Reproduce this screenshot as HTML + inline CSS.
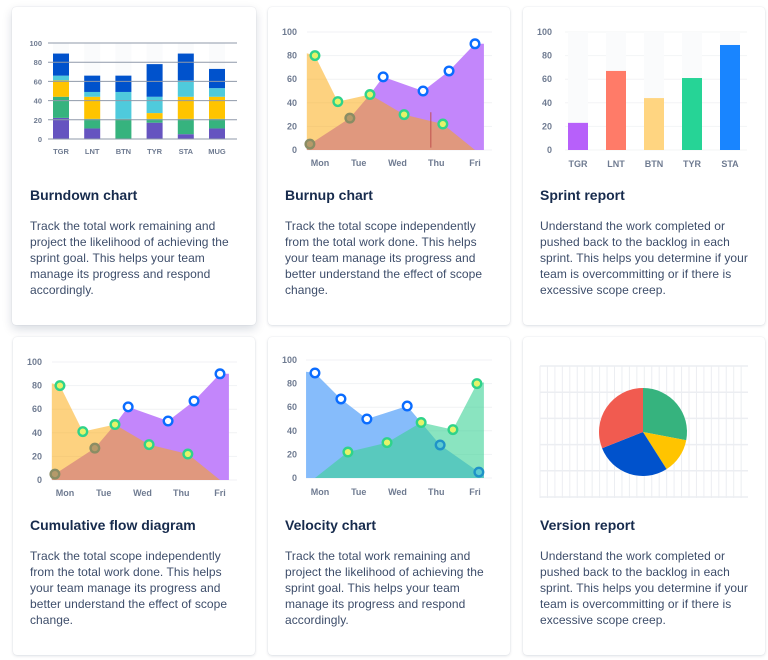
<!DOCTYPE html>
<html><head><meta charset="utf-8">
<style>
*{margin:0;padding:0;box-sizing:border-box}
body{width:768px;height:660px;background:#fff;position:relative;overflow:hidden;font-family:"Liberation Sans",sans-serif}
.card{position:absolute;background:#fff;border-radius:4px;box-shadow:0 1px 3px rgba(9,30,66,0.13),0 0 1px rgba(9,30,66,0.12)}
.card.hi{box-shadow:0 4px 10px rgba(9,30,66,0.16),0 0 1px rgba(9,30,66,0.2)}
.title{position:absolute;font-size:14px;font-weight:bold;color:#172b4d;white-space:nowrap}
.body{position:absolute;font-size:12px;line-height:16px;color:#3d4d6a;white-space:nowrap;letter-spacing:0.05px}
svg{position:absolute;left:0;top:0}
svg text{font-family:"Liberation Sans",sans-serif;font-weight:bold;fill:#6f7b91}
</style></head><body>
<div class="card hi" style="left:12px;top:7px;width:244px;height:318px"></div>
<div class="card" style="left:268px;top:7px;width:242px;height:318px"></div>
<div class="card" style="left:523px;top:7px;width:242px;height:318px"></div>
<div class="card" style="left:13px;top:337px;width:242px;height:318px"></div>
<div class="card" style="left:268px;top:337px;width:242px;height:318px"></div>
<div class="card" style="left:523px;top:337px;width:242px;height:318px"></div>

<div class="title" style="left:30px;top:187px">Burndown chart</div>
<div class="body" style="left:30px;top:218px">Track the total work remaining and<br>project the likelihood of achieving the<br>sprint goal. This helps your team<br>manage its progress and respond<br>accordingly.</div>
<div class="title" style="left:285px;top:187px">Burnup chart</div>
<div class="body" style="left:285px;top:218px">Track the total scope independently<br>from the total work done. This helps<br>your team manage its progress and<br>better understand the effect of scope<br>change.</div>
<div class="title" style="left:540px;top:187px">Sprint report</div>
<div class="body" style="left:540px;top:218px">Understand the work completed or<br>pushed back to the backlog in each<br>sprint. This helps you determine if your<br>team is overcommitting or if there is<br>excessive scope creep.</div>
<div class="title" style="left:30px;top:517px">Cumulative flow diagram</div>
<div class="body" style="left:30px;top:548px">Track the total scope independently<br>from the total work done. This helps<br>your team manage its progress and<br>better understand the effect of scope<br>change.</div>
<div class="title" style="left:285px;top:517px">Velocity chart</div>
<div class="body" style="left:285px;top:548px">Track the total work remaining and<br>project the likelihood of achieving the<br>sprint goal. This helps your team<br>manage its progress and respond<br>accordingly.</div>
<div class="title" style="left:540px;top:517px">Version report</div>
<div class="body" style="left:540px;top:548px">Understand the work completed or<br>pushed back to the backlog in each<br>sprint. This helps you determine if your<br>team is overcommitting or if there is<br>excessive scope creep.</div>

<svg id="s" width="768" height="660"></svg>
<script>
const yTicks=[0,20,40,60,80,100];
const dayLabels=['Mon','Tue','Wed','Thu','Fri'];
// burndown
const bdCats=['TGR','LNT','BTN','TYR','STA','MUG'];
const bdPurple=[22,11,0,17,5,11];
const bdGreen=[22,10,21,4,16,10];
const bdYellow=[17,23,0,6,23,23];
const bdCyan=[5,5,28,17,17,9];
const bdBlue=[23,17,17,34,28,20];
// sprint
const spCats=['TGR','LNT','BTN','TYR','STA'];
const spVals=[23,67,44,61,89];
// burnup / cumulative (x in days, Mon=0)
const buOrangeX=[-0.34,-0.13,0.46,1.29,2.17,3.17,4];
const buOrangeY=[82,80,41,47,30,22,0];
const buPurpleX=[-0.34,-0.26,0.77,1.29,1.63,2.66,3.33,4,4.23];
const buPurpleY=[3,5,27,47,62,50,67,90,90];
const buGreenMarkX=[-0.13,0.46,1.29,2.17,3.17];
const buGreenMarkY=[80,41,47,30,22];
const buGrayMarkX=[-0.26,0.77];
const buGrayMarkY=[5,27];
const buBlueMarkX=[1.63,2.66,3.33,4];
const buBlueMarkY=[62,50,67,90];
// velocity
const veBlueX=[-0.36,-0.13,0.54,1.21,2.25,2.61,3.1,4.1,4.23];
const veBlueY=[90,89,67,50,61,47,28,5,4];
const veGreenX=[-0.13,0.72,1.73,2.61,3.43,4.05,4.23];
const veGreenY=[0,22,30,47,41,80,81];
const veBlueMarkX=[-0.13,0.54,1.21,2.25];
const veBlueMarkY=[89,67,50,61];
const veTealMarkX=[3.1,4.1];
const veTealMarkY=[28,5];
const veGreenMarkX=[0.72,1.73,2.61,3.43,4.05];
const veGreenMarkY=[22,30,47,41,80];
// pie
const pieVals=[28,13,28,31];
const pieColors=['#36b37e','#ffc400','#0052cc','#f15b50'];

const S=document.getElementById('s');
const NS='http://www.w3.org/2000/svg';
function mk(t,a,p){const e=document.createElementNS(NS,t);for(const k in a)e.setAttribute(k,a[k]);(p||S).appendChild(e);return e;}
function txt(x,y,s,size,anchor){const e=mk('text',{x:x,y:y,'font-size':size,'text-anchor':anchor});e.textContent=s;return e;}

function yAxis(name,y0,y100,x1,x2,lx,col,size){
  const ys=v=>y0-v*(y0-y100)/100;
  const g=mk('g',{});
  
  
  yTicks.forEach(v=>{
    mk('line',{x1:x1,x2:x2,y1:ys(v),y2:ys(v),stroke:col,'stroke-width':1},g);
    const t=mk('text',{x:lx,y:ys(v)+3,'font-size':size,'text-anchor':'end'},g);t.textContent=v;
  });
  return ys;
}

// Burndown
(function(){
  const y0=139,y100=43;
  const ys=v=>y0-v*(y0-y100)/100;
  const xs=i=>61+i*31.2;
  const stacks=[bdPurple,bdGreen,bdYellow,bdCyan,bdBlue];
  const cols=['#6554c0','#36b37e','#ffc400','#4fcadc','#0052cc'];
  const names=['purple','green','yellow','cyan','blue'];
  bdCats.forEach((c,i)=>{
    const bg=mk('rect',{x:xs(i)-8,y:ys(100),width:16,height:ys(0)-ys(100),fill:'#fafbfc'});
    
    
    let acc=0;
    stacks.forEach((arr,k)=>{
      const v=arr[i];if(v<=0)return;
      const r=mk('rect',{x:xs(i)-8,y:ys(acc+v),width:16,height:ys(acc)-ys(acc+v),fill:cols[k]});
      
      
      acc+=v;
    });
    const t=txt(xs(i),154,c,7.5,'middle');
    
    
  });
  yAxis('burndown',y0,y100,48,237,42,'#8f99aa',7.5);
})();

function marker(x,y,ring,center,name){
  const c=mk('circle',{cx:x,cy:y,r:4.3,fill:center,stroke:ring,'stroke-width':2.4});
  
  
}
function area(xsArr,ysArr,xs,ys,fill,name){
  let d='M'+xs(xsArr[0])+','+ys(0);
  xsArr.forEach((x,i)=>{d+=' L'+xs(x)+','+ys(ysArr[i]);});
  d+=' L'+xs(xsArr[xsArr.length-1])+','+ys(0)+' Z';
  const p=mk('path',{d:d,fill:fill});
  
  
}

function burnup(prefix,mon,y0,y100,gx1,gx2,lx,redline){
  const ys=yAxis(prefix,y0,y100,gx1,gx2,lx,'#f1f2f4',9);
  const xs=d=>mon+d*38.75;
  area(buPurpleX,buPurpleY,xs,ys,'#c386fb',prefix+'-purple-area');
  area(buOrangeX,buOrangeY,xs,ys,'rgba(251,169,12,0.52)',prefix+'-orange-area');
  if(redline){const l=mk('line',{x1:xs(2.86),x2:xs(2.86),y1:ys(32),y2:ys(2),stroke:'#c0504d','stroke-width':1});}
  buGrayMarkX.forEach((x,i)=>marker(xs(x),ys(buGrayMarkY[i]),'#8a8d64','#b59a6a',prefix+'-gray-point'));
  buGreenMarkX.forEach((x,i)=>marker(xs(x),ys(buGreenMarkY[i]),'#2fd38a','#e5f36a',prefix+'-green-point'));
  buBlueMarkX.forEach((x,i)=>marker(xs(x),ys(buBlueMarkY[i]),'#0a6cff','#ffffff',prefix+'-blue-point'));
  dayLabels.forEach((d,i)=>{const t=txt(xs(i),y0+16,d,9,'middle');});
}
burnup('burnup',320,150,32,307,492,297,true);
burnup('cumulative',65,480,362,52,237,42,false);

// Velocity
(function(){
  const y0=478,y100=360;
  const ys=yAxis('velocity',y0,y100,306,492,297,'#f1f2f4',9);
  const xs=d=>320+d*38.75;
  area(veBlueX,veBlueY,xs,ys,'#86bcfb','velocity-blue-area');
  area(veGreenX,veGreenY,xs,ys,'rgba(60,210,150,0.6)','velocity-green-area');
  veBlueMarkX.forEach((x,i)=>marker(xs(x),ys(veBlueMarkY[i]),'#0a6cff','#ffffff','velocity-blue-point'));
  veTealMarkX.forEach((x,i)=>marker(xs(x),ys(veTealMarkY[i]),'#1f93c8','#5ccbd0','velocity-teal-point'));
  veGreenMarkX.forEach((x,i)=>marker(xs(x),ys(veGreenMarkY[i]),'#2fd38a','#e5f36a','velocity-green-point'));
  dayLabels.forEach((d,i)=>{const t=txt(xs(i),y0+17,d,9,'middle');});
})();

// Sprint report
(function(){
  const ys=yAxis('sprint',150,32,565,747,552,'#f3f4f6',9);
  const xs=i=>578+i*38;
  const cols=['#b760fa','#ff7b68','#ffd581','#26d496','#1985ff'];
  spCats.forEach((c,i)=>{
    mk('rect',{x:xs(i)-10,y:ys(100),width:20,height:ys(0)-ys(100),fill:'#fafbfc'});
    const r=mk('rect',{x:xs(i)-10,y:ys(spVals[i]),width:20,height:ys(0)-ys(spVals[i]),fill:cols[i]});
    
    
    const t=txt(xs(i),167,c,9,'middle');
    
    
  });
})();

// Version report pie
(function(){
  const g=mk('g',{});
  
  
  for(let x=540;x<=748;x+=7.45)mk('line',{x1:x,x2:x,y1:366,y2:498,stroke:'#eceef2','stroke-width':1},g);
  for(let y=366;y<=499;y+=26.2)mk('line',{x1:540,x2:748,y1:y,y2:y,stroke:'#eceef2','stroke-width':1.5},g);
  const cx=643,cy=432,r=44;
  const tot=pieVals.reduce((a,b)=>a+b,0);
  let a=0;
  pieVals.forEach((v,i)=>{
    const a1=a+v/tot*2*Math.PI;
    const x0=cx+r*Math.sin(a),y0=cy-r*Math.cos(a),x1=cx+r*Math.sin(a1),y1=cy-r*Math.cos(a1);
    const p=mk('path',{d:`M${cx},${cy} L${x0},${y0} A${r},${r} 0 ${a1-a>Math.PI?1:0} 1 ${x1},${y1} Z`,fill:pieColors[i]});
    
    
    a=a1;
  });
})();
</script>
</body></html>
